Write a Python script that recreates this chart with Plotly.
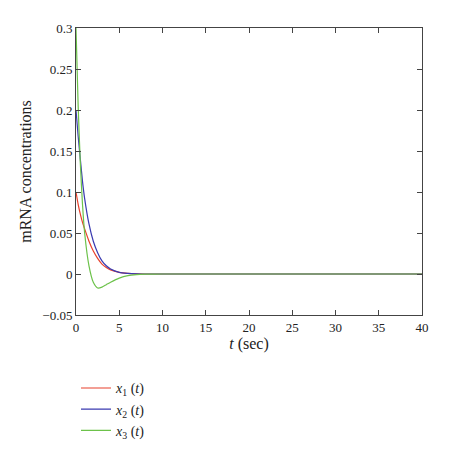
import plotly.graph_objects as go

# time samples (sec)
t = [0, 0.25, 0.5, 0.75, 1, 1.5, 2, 2.5, 3, 3.5, 4, 5, 6, 7, 8, 10, 20, 30, 40]
x1 = [0.100, 0.085, 0.073, 0.063, 0.055, 0.040, 0.028, 0.019, 0.012, 0.008, 0.005, 0.002, 0.0007, 0.0002, 0, 0, 0, 0, 0]
x2 = [0.200, 0.168, 0.140, 0.113, 0.092, 0.061, 0.040, 0.026, 0.016, 0.010, 0.006, 0.002, 0.0008, 0.0002, 0, 0, 0, 0, 0]
x3 = [0.300, 0.205, 0.135, 0.085, 0.050, 0.010, -0.010, -0.017, -0.016, -0.013, -0.010, -0.005, -0.002, -0.0007, -0.0002, 0, 0, 0, 0]

series = [("<i>x</i><sub>1</sub> (<i>t</i>)", x1, "#e8412c"),
          ("<i>x</i><sub>2</sub> (<i>t</i>)", x2, "#3a3ab0"),
          ("<i>x</i><sub>3</sub> (<i>t</i>)", x3, "#6cc24a")]

fig = go.Figure()
for name, y, c in series:
    fig.add_trace(go.Scatter(x=t, y=y, mode="lines", name=name,
                             line=dict(color=c, width=1.2, shape="spline", smoothing=0.6)))

axis = dict(showline=True, linecolor="#444", mirror="ticks", ticks="inside", ticklen=5,
            showgrid=False, zeroline=False, tickfont=dict(size=13))
fig.update_layout(
    width=474, height=451, plot_bgcolor="white", paper_bgcolor="white",
    font=dict(family="Liberation Serif", color="#222", size=13),
    margin=dict(l=68, r=60, t=20, b=136),
    xaxis=dict(axis, range=[0, 40], dtick=5, title=dict(text="<i>t</i> (sec)", standoff=4)),
    yaxis=dict(axis, range=[-0.05, 0.3], dtick=0.05, title=dict(text="mRNA concentrations", standoff=6)),
    legend=dict(x=0.0, y=-0.2, xanchor="left", yanchor="top", font=dict(size=14, family="Liberation Serif")),
)
fig.write_html("out.html")
